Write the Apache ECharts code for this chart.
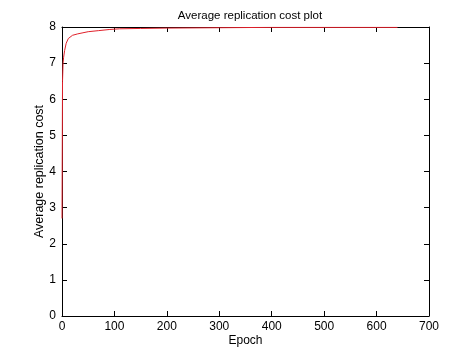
<!DOCTYPE html>
<html><head><meta charset="utf-8">
<script src="https://cdn.jsdelivr.net/npm/echarts@6/dist/echarts.min.js"></script>
<style>html,body{margin:0;padding:0;background:#fff}#c{width:474px;height:355px}</style>
</head><body><div id="c"></div>
<script>
const titleText = "Average replication cost plot";
const xName = "Epoch";
const yName = "Average replication cost";
const epochs = [0, 1, 2, 3, 5, 8, 12, 15, 20, 30, 40, 50, 70, 90, 110, 150, 200, 300, 400, 500, 640];
const cost = [2.7, 6.5, 7.0, 7.15, 7.35, 7.55, 7.68, 7.73, 7.77, 7.81, 7.84, 7.87, 7.9, 7.93, 7.95, 7.96, 7.97, 7.98, 7.99, 7.99, 7.99];
const xTicks = [0, 700, 100];
const yTicks = [0, 8, 1];

const chart = echarts.init(document.getElementById('c'), null, {renderer: 'canvas'});
const font = 'Liberation Sans, Arial, sans-serif';
const axisLine = {show: true, onZero: false, lineStyle: {color: '#000', width: 1}};
const tick = {show: true, inside: true, length: 5, lineStyle: {color: '#000'}};
chart.setOption({
  animation: false,
  title: {text: titleText, left: 245, top: 5, textAlign: 'center',
    textStyle: {fontFamily: font, fontSize: 11.5, fontWeight: 'normal', color: '#000'}},
  grid: {left: 62, right: 45, top: 27, bottom: 39, containLabel: false},
  xAxis: [
    {type: 'value', min: xTicks[0], max: xTicks[1], interval: xTicks[2], position: 'bottom',
     name: xName, nameLocation: 'middle', nameGap: 19, nameMoveOverlap: false,
     nameTextStyle: {fontFamily: font, fontSize: 12, color: '#000'},
     axisLine, axisTick: tick, splitLine: {show: false},
     axisLabel: {fontFamily: font, fontSize: 12, color: '#000', margin: 5}},
    {type: 'value', min: xTicks[0], max: xTicks[1], interval: xTicks[2], position: 'top',
     axisLine, axisTick: tick, splitLine: {show: false}, axisLabel: {show: false}}
  ],
  yAxis: [
    {type: 'value', min: yTicks[0], max: yTicks[1], interval: yTicks[2], position: 'left',
     name: yName, nameLocation: 'middle', nameGap: 16, nameRotate: 90, nameMoveOverlap: false,
     nameTextStyle: {fontFamily: font, fontSize: 12.5, color: '#000'},
     axisLine, axisTick: tick, splitLine: {show: false},
     axisLabel: {fontFamily: font, fontSize: 12, color: '#000', margin: 6}},
    {type: 'value', min: yTicks[0], max: yTicks[1], interval: yTicks[2], position: 'right',
     axisLine, axisTick: tick, splitLine: {show: false}, axisLabel: {show: false}}
  ],
  series: [{
    type: 'line', xAxisIndex: 0, yAxisIndex: 0, showSymbol: false, smooth: false,
    lineStyle: {color: '#e0202a', width: 1},
    data: epochs.map((e, i) => [e, cost[i]])
  }]
});
</script></body></html>
